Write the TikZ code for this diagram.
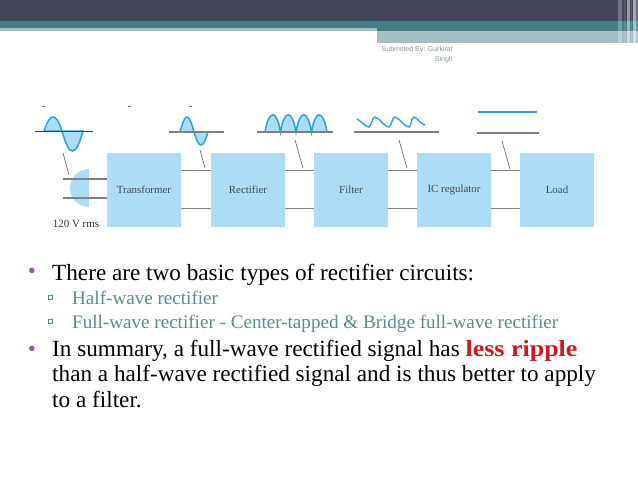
\documentclass[tikz,border=0pt]{standalone}
\usepackage{fontspec}
\setmainfont{Liberation Serif}
\newfontfamily\headfont{Liberation Sans}
\newfontface\ripplefont[FakeStretch=1.12]{Liberation Serif Bold}
\usetikzlibrary{positioning}
\definecolor{headdark}{HTML}{44465A}
\definecolor{headteal}{HTML}{457F85}
\definecolor{headpale}{HTML}{A3BFC4}
\definecolor{blockblue}{HTML}{ADDCF6}
\definecolor{waveblue}{HTML}{2AA5D3}
\definecolor{wiregray}{HTML}{7F7F80}
\definecolor{bullpurple}{HTML}{9A57A5}
\definecolor{subteal}{HTML}{5B8A8C}
\definecolor{ripplered}{HTML}{D01820}
\definecolor{creditgray}{HTML}{85949A}
\definecolor{boxtext}{HTML}{3F4A55}
\tikzset{
  block/.style={fill=blockblue, minimum width=73.6pt, minimum height=74pt, inner sep=0pt, font=\fontsize{10.9}{13}\selectfont, text=boxtext},
  wire/.style={draw=wiregray, line width=1.1pt},
  leader/.style={draw=black!65, line width=0.6pt},
  wave/.style={draw=waveblue, line width=1.5pt, fill=blockblue},
  mainline/.style={anchor=base west, inner sep=0pt, font=\fontsize{23.2}{28}\selectfont},
  subline/.style={anchor=base west, inner sep=0pt, font=\fontsize{19.1}{23}\selectfont, text=subteal},
  mainbull/.style={anchor=base, inner sep=0pt, font=\fontsize{23}{28}\selectfont, text=bullpurple},
  subbull/.style={draw=subteal, line width=0.5pt, fill=white, inner sep=0pt, minimum size=3.5pt}
}
\begin{document}
\begin{tikzpicture}[x=1pt,y=-1pt]
  \useasboundingbox (0,0) rectangle (638,479);

  % header bands
  \fill[headdark] (0,0) rectangle (638,21);
  \fill[headteal] (0,21) rectangle (638,28);
  \fill[headpale] (0,28) rectangle (377,31);
  \fill[headteal] (377,28) rectangle (638,31);
  \fill[headpale] (377,31) rectangle (638,43);
  \foreach \xa/\xb/\op in {618/622/25, 624/626/10, 627/630/45, 631/632/15, 633/636/55, 636/638/20}
    \fill[white, opacity=0.\op] (\xa,0) rectangle (\xb,43);
  \node[anchor=north east, inner sep=0pt, align=right, font=\headfont\fontsize{7}{9.5}\selectfont, text=creditgray] (credit) at (453,46.5) {Submitted By: Gurkirat\\Singh};

  % blocks
  \node[block] (transformer) at (144,190) {Transformer};
  \node[block, right=30pt of transformer] (rectifier) {Rectifier};
  \node[block, right=29pt of rectifier] (filter) {Filter};
  \node[block, right=29pt of filter] (regulator) {IC regulator};
  \node[block, right=29pt of regulator] (load) {Load};

  % source and its two leads
  \fill[blockblue] (89,169) arc[start angle=90, end angle=270, x radius=19pt, y radius=19pt] -- cycle;
  \coordinate (sourcetop) at (63,179);
  \coordinate (sourcebot) at (63,198);
  \draw[wire] (sourcetop) -- (transformer.west |- sourcetop);
  \draw[wire] (sourcebot) -- (transformer.west |- sourcebot);
  \node[inner sep=0pt, font=\fontsize{11}{13}\selectfont, text=black!80] (mains) at (76,224) {120 V rms};

  % wires between blocks
  \foreach \a/\b in {transformer/rectifier, rectifier/filter, filter/regulator, regulator/load} {
    \draw[wire] ([yshift=19.5pt]\a.east) -- ([yshift=19.5pt]\b.west);
    \draw[wire] ([yshift=-18.5pt]\a.east) -- ([yshift=-18.5pt]\b.west);
  }

  % waveforms
  \draw[wave] (44,131) .. controls (48,120) and (50,117) .. (53,117) .. controls (56,117) and (58,120) .. (62,131)
    .. controls (66,145) and (69,151) .. (72.5,151) .. controls (76,151) and (79,145) .. (83,131) -- cycle;
  \draw[draw=black!75, line width=0.9pt] (35,131) -- (93,131);

  \draw[wave] (180,132) .. controls (183,121) and (185,117) .. (187,117) .. controls (189,117) and (191,121) .. (194,132)
    .. controls (197,142) and (199,145) .. (201,145) .. controls (203,145) and (205,142) .. (208,132) -- cycle;
  \draw[wire] (169,132) -- (224,132);

  \draw[wave] (265,132) \foreach \i in {0,1,2,3} {
    .. controls ({265+15.5*\i+4},109) and ({265+15.5*\i+11.5},109) .. ({265+15.5*(\i+1)},132) } -- cycle;
  \draw[wire] (257,132) -- (333,132);

  \draw[waveblue, line width=1.4pt] (357,119) .. controls (362,122) and (366,127) .. (369,127)
    .. controls (372,125) and (372,117) .. (375,117) .. controls (380,118) and (384,127) .. (389,127)
    .. controls (392,125) and (392,117) .. (395,117) .. controls (400,118) and (404,127) .. (409,127)
    .. controls (412,125) and (411,117) .. (414,117) .. controls (418,118) and (420,124) .. (425,125);
  \draw[wire] (354,132) -- (439,132);

  \draw[waveblue, line width=1.4pt] (478,112) -- (537,112);
  \draw[wire] (477,133) -- (539,133);

  % leaders
  \draw[leader] (63,153) -- (69,175);
  \draw[leader] (200,150) -- (205,168);
  \draw[leader] (295,140) -- (303,168);
  \draw[leader] (399,140) -- (407,168);
  \draw[leader] (502,141) -- (510,169);

  % specks above the waves
  \foreach \x in {43,129,190}
    \fill[black!55] (\x-1.5,105.5) rectangle (\x+1.5,106.5);

  % bullet text
  \node[mainbull] (bulla) at (32,278) {•};
  \node[mainline] (linea) at (52,280) {There are two basic types of rectifier circuits:};
  \node[subbull] (bullb) at (50,297) {};
  \node[subline] (lineb) at (72,304) {Half-wave rectifier};
  \node[subbull] (bullc) at (50,321) {};
  \node[subline] (linec) at (72,328) {Full-wave rectifier - Center-tapped \& Bridge full-wave rectifier};
  \node[mainbull] (bulld) at (32,356) {•};
  \node[mainline] (lined) at (52,356) {In summary, a full-wave rectified signal has \textcolor{ripplered}{\ripplefont less ripple}};
  \node[mainline] (linee) at (52,381) {than a half-wave rectified signal and is thus better to apply};
  \node[mainline] (linef) at (52,407) {to a filter.};
\end{tikzpicture}
\end{document}
